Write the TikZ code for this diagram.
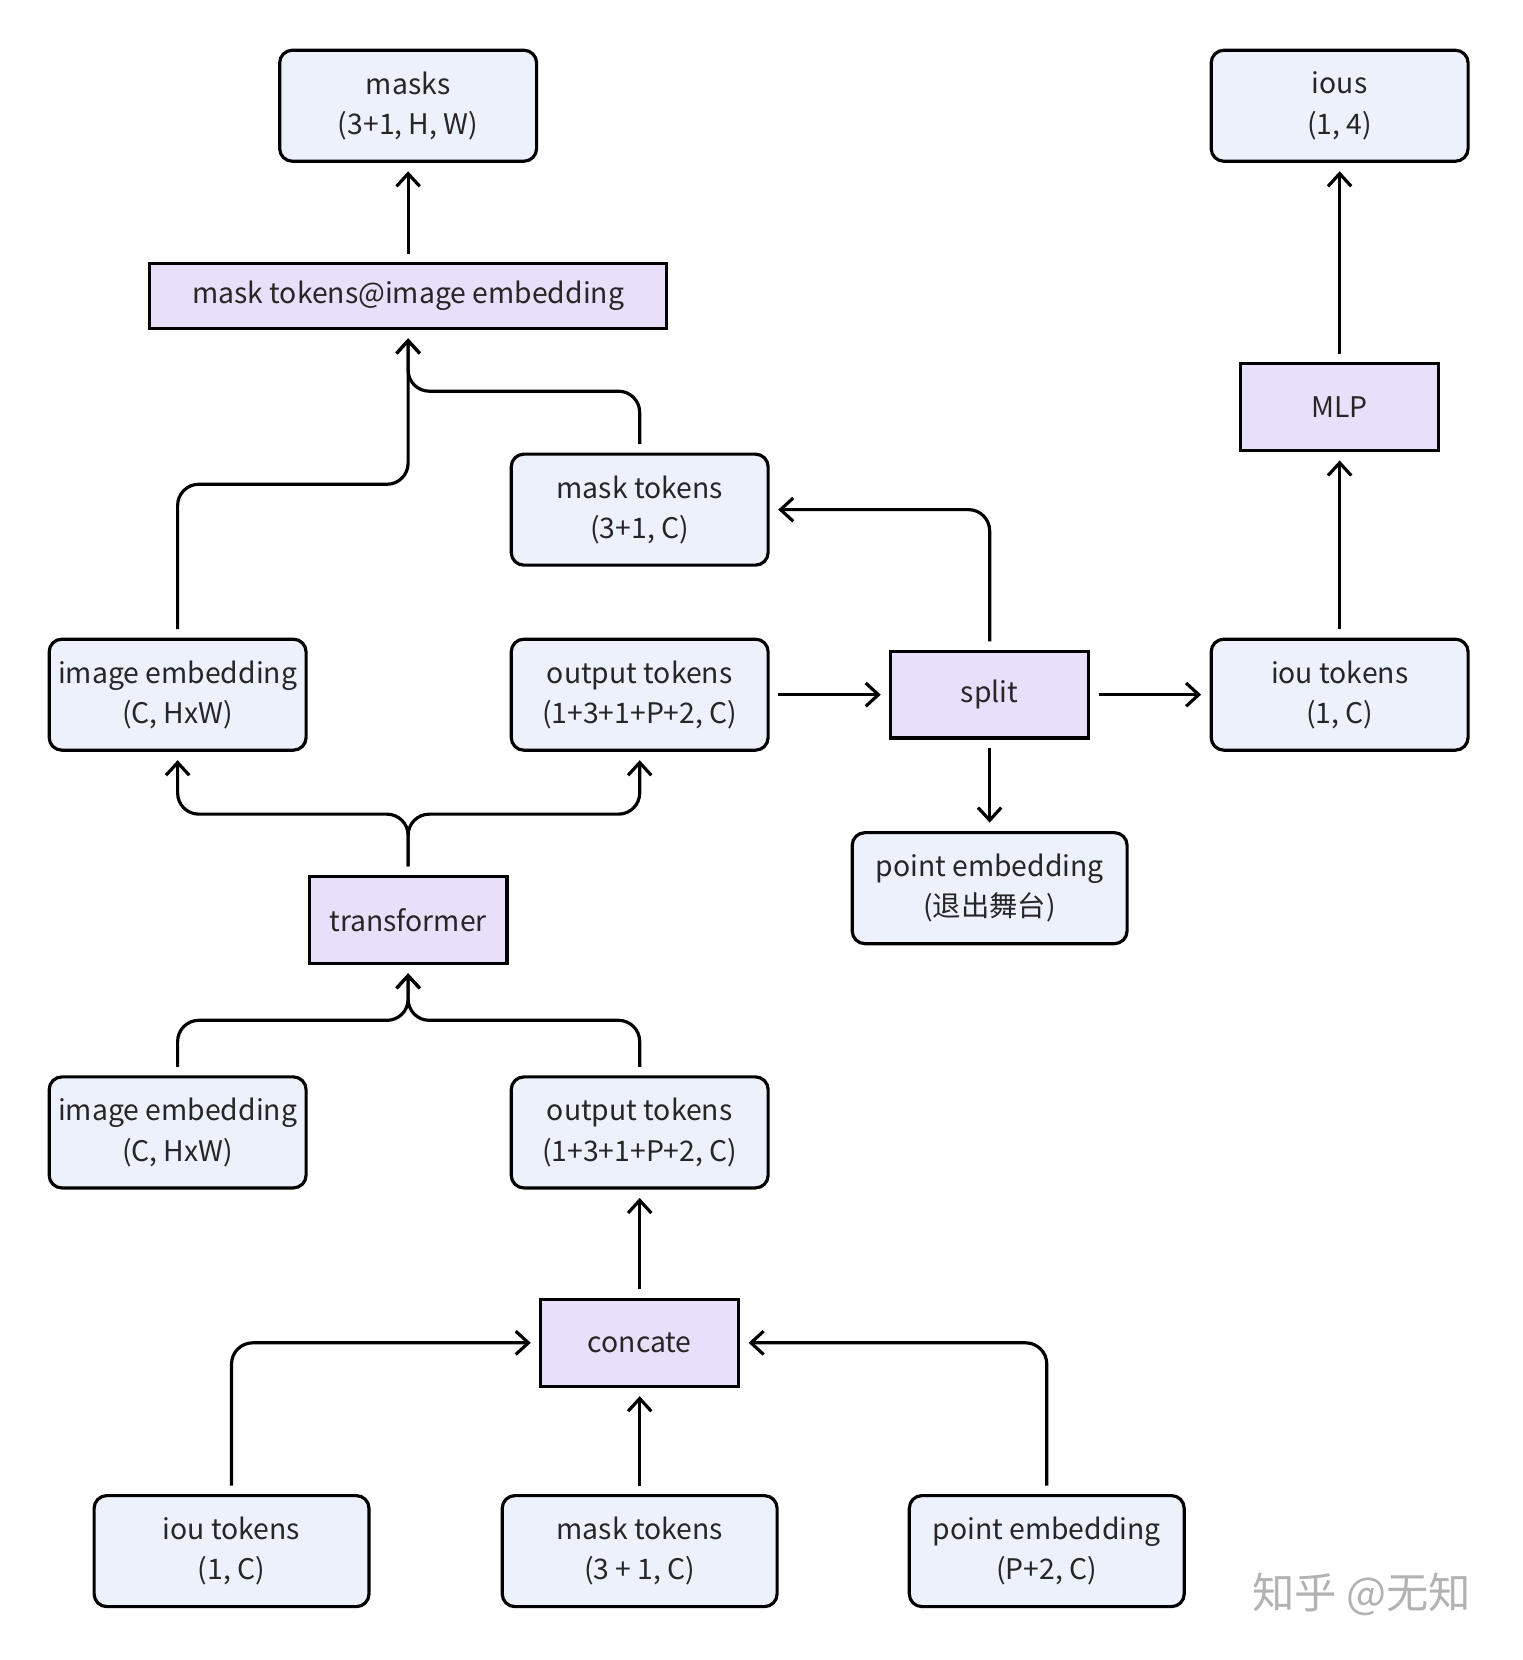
\documentclass[tikz,border=0pt]{standalone}
\usepackage{fontspec}
\setmainfont{Noto Sans CJK SC}
\usetikzlibrary{arrows.meta}
\definecolor{bbox}{HTML}{EDF1FC}
\definecolor{pbox}{HTML}{E8E0FA}
\tikzset{
 x=0.5pt,y=-0.5pt,
 rbox/.style={draw,line width=1.5pt,rounded corners=6pt,fill=bbox,minimum width=121.5pt,minimum height=52.5pt,inner sep=0pt,align=center,font=\fontsize{13.4}{19}\selectfont,text=black!85},
 wbox/.style={rbox,minimum width=130pt},
 pbx/.style={draw,line width=1.5pt,fill=pbox,minimum width=93.5pt,minimum height=41pt,inner sep=0pt,align=center,font=\fontsize{13.4}{19}\selectfont,text=black!85},
 arr/.style={line width=1.5pt,rounded corners=10pt,-{Straight Barb[length=6pt,width=11pt,line width=1.5pt]}},
}
\begin{document}
\begin{tikzpicture}
\useasboundingbox (0,0) rectangle (1440,1570);
\node[rbox] (masks) at (386,100) {masks\\(3+1, H, W)};
\node[rbox] (ious) at (1267,100) {ious\\(1, 4)};
\node[pbx,minimum width=244.5pt,minimum height=30.5pt] (mie) at (386,280) {mask tokens@image embedding};
\node[pbx] (mlp) at (1267,385) {MLP};
\node[rbox] (mt) at (605,482) {mask tokens\\(3+1, C)};
\node[rbox] (ie1) at (168,657) {image embedding\\(C, HxW)};
\node[rbox] (ot1) at (605,657) {output tokens\\(1+3+1+P+2, C)};
\node[pbx] (split) at (936,657) {split};
\node[rbox] (it1) at (1267,657) {iou tokens\\(1, C)};
\node[wbox] (pe1) at (936,840) {point embedding\\(退出舞台)};
\node[pbx] (tr) at (386,870) {transformer};
\node[rbox] (ie2) at (168,1071) {image embedding\\(C, HxW)};
\node[rbox] (ot2) at (605,1071) {output tokens\\(1+3+1+P+2, C)};
\node[pbx] (cc) at (605,1270) {concate};
\node[wbox] (it2) at (219,1467) {iou tokens\\(1, C)};
\node[wbox] (mt2) at (605,1467) {mask tokens\\(3 + 1, C)};
\node[wbox] (pe2) at (990,1467) {point embedding\\(P+2, C)};
\node[text=black!30,font=\fontsize{20}{24}\selectfont] (wm) at (1288,1508) {知乎 @无知};

\draw[arr] ([yshift=4pt]mie.north) -- ([yshift=-4pt]masks.south);
\draw[arr] ([yshift=4pt]ie1.north) |- (386,458) -- ([yshift=-4pt]mie.south);
\draw[arr] ([yshift=4pt]mt.north) |- (386,370) -- ([yshift=-4pt]mie.south);
\draw[arr] ([yshift=4pt]mlp.north) -- ([yshift=-4pt]ious.south);
\draw[arr] ([yshift=4pt]it1.north) -- ([yshift=-4pt]mlp.south);
\draw[arr] ([yshift=4pt]split.north) |- ([xshift=4pt]mt.east);
\draw[arr] ([xshift=4pt]ot1.east) -- ([xshift=-4pt]split.west);
\draw[arr] ([xshift=4pt]split.east) -- ([xshift=-4pt]it1.west);
\draw[arr] ([yshift=-4pt]split.south) -- ([yshift=4pt]pe1.north);
\draw[arr] ([yshift=4pt]tr.north) -- (386,770) -| ([yshift=-4pt]ie1.south);
\draw[arr] ([yshift=4pt]tr.north) -- (386,770) -| ([yshift=-4pt]ot1.south);
\draw[arr] ([yshift=4pt]ie2.north) |- (386,965) -- ([yshift=-4pt]tr.south);
\draw[arr] ([yshift=4pt]ot2.north) |- (386,965) -- ([yshift=-4pt]tr.south);
\draw[arr] ([yshift=4pt]cc.north) -- ([yshift=-4pt]ot2.south);
\draw[arr] ([yshift=4pt]it2.north) |- ([xshift=-4pt]cc.west);
\draw[arr] ([yshift=4pt]mt2.north) -- ([yshift=-4pt]cc.south);
\draw[arr] ([yshift=4pt]pe2.north) |- ([xshift=4pt]cc.east);
\end{tikzpicture}
\end{document}
